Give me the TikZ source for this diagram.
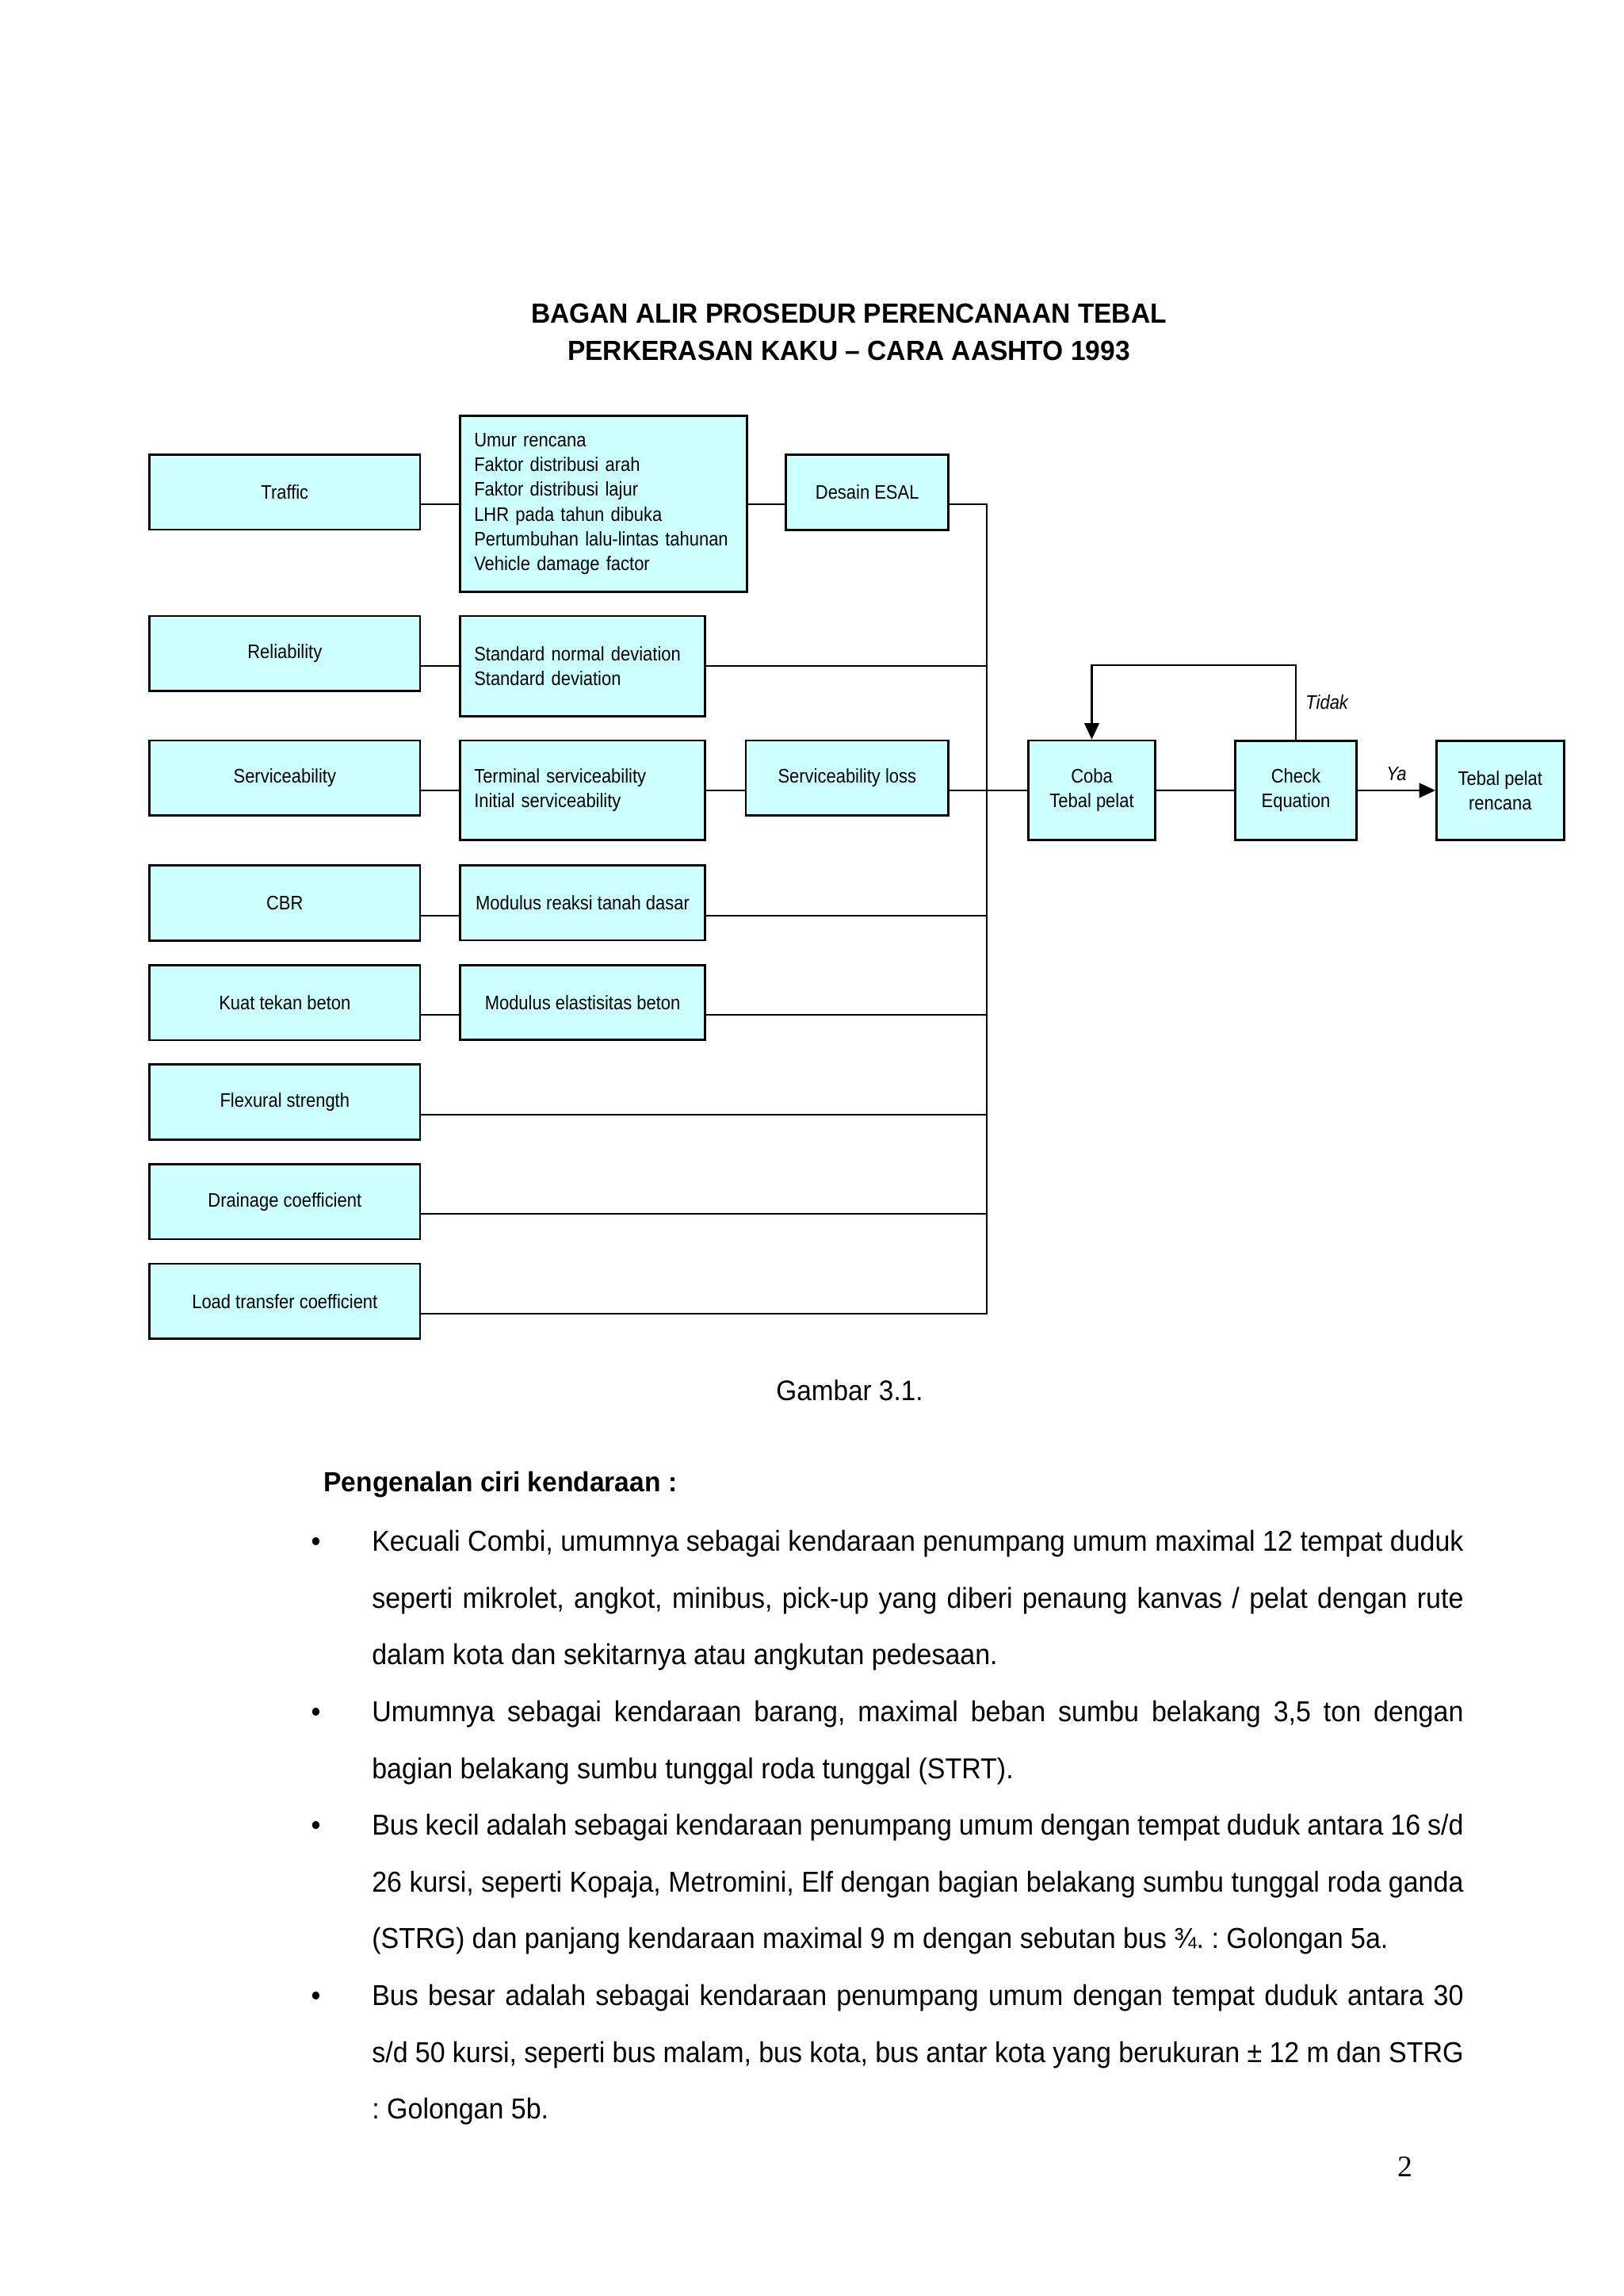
\documentclass[tikz,border=0pt]{standalone}
\usepackage{fontspec}
\setmainfont{Liberation Sans}
\newfontfamily\numfont{Liberation Serif}
\newfontfamily\boxfamily[FakeStretch=0.89]{Liberation Sans}
\newfontfamily\bodyfamily[FakeStretch=0.935]{Liberation Sans}
\newfontfamily\headfamily[FakeStretch=0.96]{Liberation Sans}
\usetikzlibrary{arrows.meta,calc}
\definecolor{boxfill}{RGB}{204,255,255}
\newlength\px
\setlength\px{0.189189mm}
\newlength\bodyw
\setlength\bodyw{746.5\px}
\newcommand{\boxtext}{\boxfamily\fontsize{7.2}{9.1}\selectfont}
\newcommand{\bodytext}{\bodyfamily\fontsize{10.6}{12.7}\selectfont}
\newcommand{\headtext}{\headfamily\bfseries\fontsize{10.2}{13.9}\selectfont}
\frenchspacing

\begin{document}
\begin{tikzpicture}[x=0.189189mm, y=-0.189189mm,
    box/.style={draw, line width=0.8pt, fill=boxfill, inner sep=0pt, anchor=north west, align=center, font=\boxtext},
    leftbox/.style={box, minimum width=185\px, minimum height=51.3\px},
    listbox/.style={box, align=left, inner xsep=9.5\px},
    link/.style={line width=0.6pt},
    arr/.style={link, -{Triangle[length=2.1mm, width=1.9mm]}},
    bodyline/.style={anchor=base west, inner sep=0pt, font=\bodytext}]
  \path[fill=white, use as bounding box] (0,0) rectangle (1110,1569.6);

  \node[font=\headtext, align=center] (title) at (580.5,227) {BAGAN ALIR PROSEDUR PERENCANAAN TEBAL\\PERKERASAN KAKU – CARA AASHTO 1993};

  \node[leftbox] (traffic) at (101.5,310) {Traffic};
  \node[leftbox] (rel) at (101.5,420.4) {Reliability};
  \node[leftbox] (serv) at (101.5,505.5) {Serviceability};
  \node[leftbox] (cbr) at (101.5,590.9) {CBR};
  \node[leftbox] (kuat) at (101.5,659) {Kuat tekan beton};
  \node[leftbox] (flex) at (101.5,727) {Flexural strength};
  \node[leftbox] (drain) at (101.5,795.1) {Drainage coefficient};
  \node[leftbox] (load) at (101.5,863.2) {Load transfer coefficient};

  \node[listbox, text width=177\px, minimum height=120.2\px] (umur) at (314,283.6) {Umur rencana\\Faktor distribusi arah\\Faktor distribusi lajur\\LHR pada tahun dibuka\\Pertumbuhan lalu-lintas tahunan\\Vehicle damage factor};
  \node[listbox, text width=148.3\px, minimum height=68.6\px] (snd) at (314,420.4) {Standard normal deviation\\Standard deviation};
  \node[listbox, text width=148.3\px, minimum height=68\px] (term) at (314,505.5) {Terminal serviceability\\Initial serviceability};
  \node[box, minimum width=167.3\px, minimum height=51.2\px] (modr) at (314,590.9) {Modulus reaksi tanah dasar};
  \node[box, minimum width=167.3\px, minimum height=51.2\px] (mode) at (314,659) {Modulus elastisitas beton};

  \node[box, minimum width=111\px, minimum height=51.5\px] (esal) at (536.8,310) {Desain ESAL};
  \node[box, minimum width=138.5\px, minimum height=51.3\px] (loss) at (509.3,505.5) {Serviceability loss};
  \node[box, minimum width=86.5\px, minimum height=68\px] (coba) at (702.6,505.5) {Coba\\Tebal pelat};
  \node[box, minimum width=82.8\px, minimum height=67.8\px] (check) at (844,505.7) {Check\\Equation};
  \node[box, minimum width=87.1\px, minimum height=67.8\px] (tebal) at (981.6,505.7) {Tebal pelat\\rencana};

  \coordinate (bus) at (674.7,0);
  \coordinate (r4) at ($(cbr.north east)!0.66!(cbr.south east)$);
  \coordinate (r5) at ($(kuat.north east)!0.66!(kuat.south east)$);
  \coordinate (r6) at ($(flex.north east)!0.66!(flex.south east)$);
  \coordinate (r7) at ($(drain.north east)!0.66!(drain.south east)$);
  \coordinate (r8) at ($(load.north east)!0.66!(load.south east)$);

  \draw[link] (traffic.east |- umur.west) -- (umur.west);
  \draw[link] (umur.east) -- (umur.east -| esal.west);
  \draw[link] (esal.east |- umur.east) -| (bus |- r8) -- (r8);
  \draw[link] (rel.east |- snd.west) -- (snd.west);
  \draw[link] (snd.east) -- (snd.east -| bus);
  \draw[link] (serv.east |- term.west) -- (term.west);
  \draw[link] (term.east) -- (term.east -| loss.west);
  \draw[link] (loss.east |- coba.west) -- (coba.west);
  \draw[link] (r4) -- (r4 -| modr.west) (modr.east |- r4) -- (r4 -| bus);
  \draw[link] (r5) -- (r5 -| mode.west) (mode.east |- r5) -- (r5 -| bus);
  \draw[link] (r6) -- (r6 -| bus);
  \draw[link] (r7) -- (r7 -| bus);
  \draw[link] (coba) -- (check);
  \draw[arr] (check) -- node[above, font=\boxtext\itshape] {Ya} (tebal);
  \draw[arr] (check.north) -- node[right, font=\boxtext\itshape] {Tidak} ++(0,-51) -| (coba.north);

  \node[font=\bodyfamily\fontsize{10.4}{12}\selectfont, anchor=base] (caption) at (581,957.5) {Gambar 3.1.};
  \node[font=\headtext, anchor=base west, inner sep=0pt] (intro) at (221,1019.8) {Pengenalan ciri kendaraan :};

  \node[bodyline, anchor=base] (d1) at (216,1060.5) {\textbullet};
  \node[bodyline, anchor=base] (d2) at (216,1176.9) {\textbullet};
  \node[bodyline, anchor=base] (d3) at (216,1254.5) {\textbullet};
  \node[bodyline, anchor=base] (d4) at (216,1370.9) {\textbullet};

  \node[bodyline] (l1) at (254,1060.5) {\makebox[\bodyw][s]{Kecuali Combi, umumnya sebagai kendaraan penumpang umum maximal 12 tempat duduk}};
  \node[bodyline] (l2) at (254,1099.3) {\makebox[\bodyw][s]{seperti mikrolet, angkot, minibus, pick-up yang diberi penaung kanvas / pelat dengan rute}};
  \node[bodyline] (l3) at (254,1138.1) {dalam kota dan sekitarnya atau angkutan pedesaan.};
  \node[bodyline] (l4) at (254,1176.9) {\makebox[\bodyw][s]{Umumnya sebagai kendaraan barang, maximal beban sumbu belakang 3,5 ton dengan}};
  \node[bodyline] (l5) at (254,1215.7) {bagian belakang sumbu tunggal roda tunggal (STRT).};
  \node[bodyline] (l6) at (254,1254.5) {\makebox[\bodyw][s]{Bus kecil adalah sebagai kendaraan penumpang umum dengan tempat duduk antara 16 s/d}};
  \node[bodyline] (l7) at (254,1293.3) {\makebox[\bodyw][s]{26 kursi, seperti Kopaja, Metromini, Elf dengan bagian belakang sumbu tunggal roda ganda}};
  \node[bodyline] (l8) at (254,1332.1) {(STRG) dan panjang kendaraan maximal 9 m dengan sebutan bus ¾. : Golongan 5a.};
  \node[bodyline] (l9) at (254,1370.9) {\makebox[\bodyw][s]{Bus besar adalah sebagai kendaraan penumpang umum dengan tempat duduk antara 30}};
  \node[bodyline] (l10) at (254,1409.7) {\makebox[\bodyw][s]{s/d 50 kursi, seperti bus malam, bus kota, bus antar kota yang berukuran ± 12 m dan STRG}};
  \node[bodyline] (l11) at (254,1448.5) {: Golongan 5b.};

  \node[font=\numfont\fontsize{11}{13}\selectfont, anchor=base] (page) at (961,1487.8) {2};
\end{tikzpicture}
\end{document}
